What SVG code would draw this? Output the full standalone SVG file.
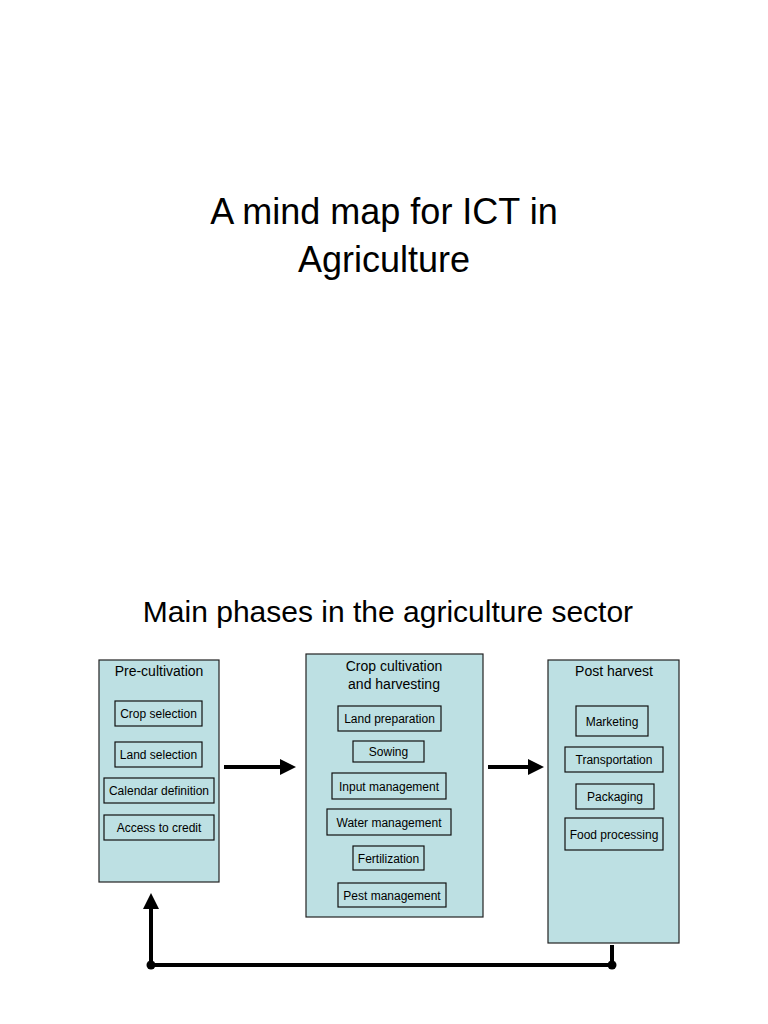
<svg xmlns="http://www.w3.org/2000/svg" width="768" height="1024" viewBox="0 0 768 1024">
<style>
text{font-family:"Liberation Sans",Arial,sans-serif;fill:#000;text-anchor:middle}
.big{font-size:36px}.h{font-size:30px}
.p{fill:#bde0e3;stroke:#222;stroke-width:1.2}
.i{fill:none;stroke:#111;stroke-width:1.2}
.s{font-size:12px}.t{font-size:14px}
.c{stroke:#000;stroke-width:4;fill:none}
</style>
<defs><marker id="a" markerWidth="4" markerHeight="4" refX="3" refY="2" orient="auto"><path d="M0,0L4,2L0,4z" fill="#000"/></marker></defs>
<rect width="768" height="1024" fill="#fff"/>
<text class="big" x="384" y="224">A mind map for ICT in</text>
<text class="big" x="384" y="272">Agriculture</text>
<text class="h" x="388" y="622">Main phases in the agriculture sector</text>
<g id="pre">
<rect class="p" x="99" y="660" width="120" height="222"/>
<text class="t" x="159" y="676">Pre-cultivation</text>
<rect class="i" x="115" y="701" width="87" height="25"/><text class="s" x="158.5" y="718">Crop selection</text>
<rect class="i" x="115" y="742" width="87" height="25"/><text class="s" x="158.5" y="759">Land selection</text>
<rect class="i" x="104" y="778" width="110" height="25"/><text class="s" x="159" y="795">Calendar definition</text>
<rect class="i" x="104" y="815" width="110" height="25"/><text class="s" x="159" y="832">Access to credit</text>
</g>
<g id="crop">
<rect class="p" x="306" y="654" width="177" height="263"/>
<text class="t" x="394" y="671">Crop cultivation</text>
<text class="t" x="394" y="689">and harvesting</text>
<rect class="i" x="338" y="706" width="103" height="25"/><text class="s" x="389.5" y="723">Land preparation</text>
<rect class="i" x="353" y="741" width="71" height="21"/><text class="s" x="388.5" y="756">Sowing</text>
<rect class="i" x="332" y="773" width="114" height="26"/><text class="s" x="389" y="791">Input management</text>
<rect class="i" x="327" y="809" width="124" height="26"/><text class="s" x="389" y="827">Water management</text>
<rect class="i" x="353" y="846" width="71" height="24"/><text class="s" x="388.5" y="863">Fertilization</text>
<rect class="i" x="338" y="883" width="108" height="24"/><text class="s" x="392" y="900">Pest management</text>
</g>
<g id="post">
<rect class="p" x="548" y="660" width="131" height="283"/>
<text class="t" x="614" y="676">Post harvest</text>
<rect class="i" x="576" y="706" width="72" height="30"/><text class="s" x="612" y="726">Marketing</text>
<rect class="i" x="565" y="747" width="98" height="25"/><text class="s" x="614" y="764">Transportation</text>
<rect class="i" x="576" y="784" width="78" height="25"/><text class="s" x="615" y="801">Packaging</text>
<rect class="i" x="565" y="818" width="98" height="32"/><text class="s" x="614" y="839">Food processing</text>
</g>
<g id="connectors">
<line class="c" x1="224" y1="767" x2="292" y2="767" marker-end="url(#a)"/>
<line class="c" x1="488" y1="767" x2="540" y2="767" marker-end="url(#a)"/>
<polyline class="c" points="612,945 612,965 151,965 151,897" marker-end="url(#a)"/>
<circle cx="151" cy="965" r="4.5"/><circle cx="612" cy="965" r="4.5"/>
</g>
</svg>
